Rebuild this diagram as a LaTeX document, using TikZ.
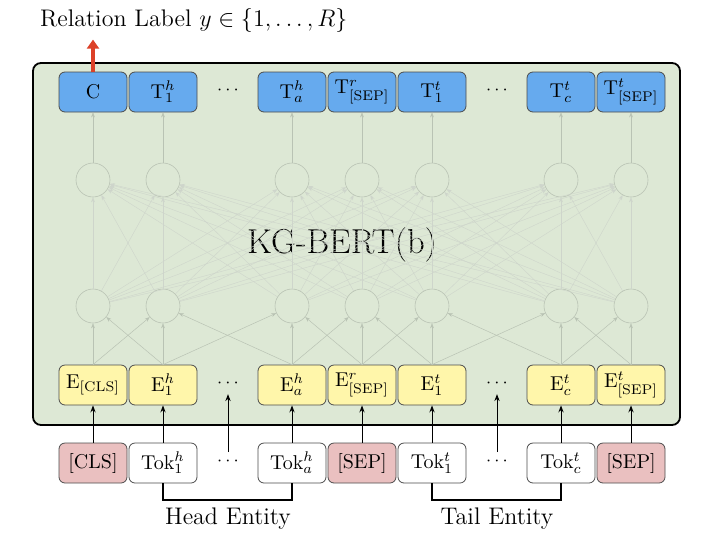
\documentclass[tikz,border=0pt]{standalone}
\usetikzlibrary{arrows.meta}
\definecolor{bgreen}{RGB}{221,232,213}
\definecolor{tblue}{RGB}{102,170,238}
\definecolor{eyel}{RGB}{255,246,170}
\definecolor{tpink}{RGB}{234,192,192}
\definecolor{farrow}{RGB}{185,195,180}
\definecolor{rarrow}{RGB}{220,65,40}
\begin{document}
\begin{tikzpicture}[x=0.5pt,y=-0.5pt,
 box/.style={draw=black!70,rounded corners=3pt,minimum width=34pt,minimum height=20pt,inner sep=1pt,font=\normalsize},
 tbox/.style={box,fill=tblue},
 ebox/.style={box,fill=eyel},
 pbox/.style={box,fill=tpink},
 wbox/.style={box,fill=white},
 dts/.style={font=\small},
 cir/.style={circle,draw=farrow,line width=0.3pt,minimum size=17pt,inner sep=0pt},
 faint/.style={draw=farrow!70,line width=0.2pt,-{Stealth[length=2.5pt]}},
 farr/.style={draw=farrow,line width=0.25pt,-{Stealth[length=2.5pt]}},
 blk/.style={line width=0.5pt,-{Stealth[length=3.5pt]}}]
\useasboundingbox (0,0) rectangle (706,552);
\draw[fill=bgreen,line width=0.9pt,rounded corners=4pt] (33,63) rectangle (680,425);
\node[anchor=west,font=\large] (title) at (33,20) {Relation Label $y\in\{1,\dots,R\}$};
\node[font=\LARGE] (kg) at (342,245) {KG-BERT(b)};
% top
\node[tbox] (T1) at (93,92) {C};
\node[tbox] (T2) at (163,92) {T$_1^h$};
\node[dts] (Td1) at (228,90) {$\cdots$};
\node[tbox] (T3) at (292,92) {T$_a^h$};
\node[tbox] (T4) at (362,92) {T$^r_{\mathrm{[SEP]}}$};
\node[tbox] (T5) at (432,92) {T$_1^t$};
\node[dts] (Td2) at (497,90) {$\cdots$};
\node[tbox] (T6) at (561,92) {T$_c^t$};
\node[tbox] (T7) at (631,92) {T$^t_{\mathrm{[SEP]}}$};
% E
\node[ebox] (E1) at (93,385) {E$_{\mathrm{[CLS]}}$};
\node[ebox] (E2) at (163,385) {E$_1^h$};
\node[dts] (Ed1) at (228,383) {$\cdots$};
\node[ebox] (E3) at (292,385) {E$_a^h$};
\node[ebox] (E4) at (362,385) {E$^r_{\mathrm{[SEP]}}$};
\node[ebox] (E5) at (432,385) {E$_1^t$};
\node[dts] (Ed2) at (497,383) {$\cdots$};
\node[ebox] (E6) at (561,385) {E$_c^t$};
\node[ebox] (E7) at (631,385) {E$^t_{\mathrm{[SEP]}}$};
% tok
\node[pbox] (K1) at (93,463) {[CLS]};
\node[wbox] (K2) at (163,463) {Tok$_1^h$};
\node[dts] (Kd1) at (228,461) {$\cdots$};
\node[wbox] (K3) at (292,463) {Tok$_a^h$};
\node[pbox] (K4) at (362,463) {[SEP]};
\node[wbox] (K5) at (432,463) {Tok$_1^t$};
\node[dts] (Kd2) at (497,461) {$\cdots$};
\node[wbox] (K6) at (561,463) {Tok$_c^t$};
\node[pbox] (K7) at (631,463) {[SEP]};
% circles
\foreach \i/\x in {1/93,2/163,3/292,4/362,5/432,6/561,7/631}{
 \node[cir] (A\i) at (\x,180) {};
 \node[cir] (B\i) at (\x,306) {};
}
\foreach \i in {1,...,7}{\foreach \j in {1,...,7}{\draw[faint] (B\i) -- (A\j);}}
\foreach \i in {1,...,7}{\draw[farr] (A\i) -- (T\i);}
\foreach \i in {1,...,7}{\foreach \j in {1,...,7}{
 \pgfmathtruncatemacro{\d}{abs(\i-\j)}
 \ifnum\d<2 \draw[farr] (E\i.north) -- (B\j); \fi}}
\foreach \i in {1,...,7}{\draw[blk] (K\i) -- (E\i);}
\coordinate (kd1top) at (228,452);
\coordinate (kd2top) at (497,452);
\draw[blk] (kd1top) -- (Ed1.south);
\draw[blk] (kd2top) -- (Ed2.south);
\draw[rarrow,line width=1.8pt,-{Triangle[length=4.5pt,width=6pt]}] (T1.north) -- ++(0,-32);
\draw[line width=0.6pt] (K2.south) |- (228,500) -| (K3.south);
\draw[line width=0.6pt] (K5.south) |- (497,500) -| (K6.south);
\node[font=\large] (he) at (228,519) {Head Entity};
\node[font=\large] (te) at (497,519) {Tail Entity};
\end{tikzpicture}
\end{document}
